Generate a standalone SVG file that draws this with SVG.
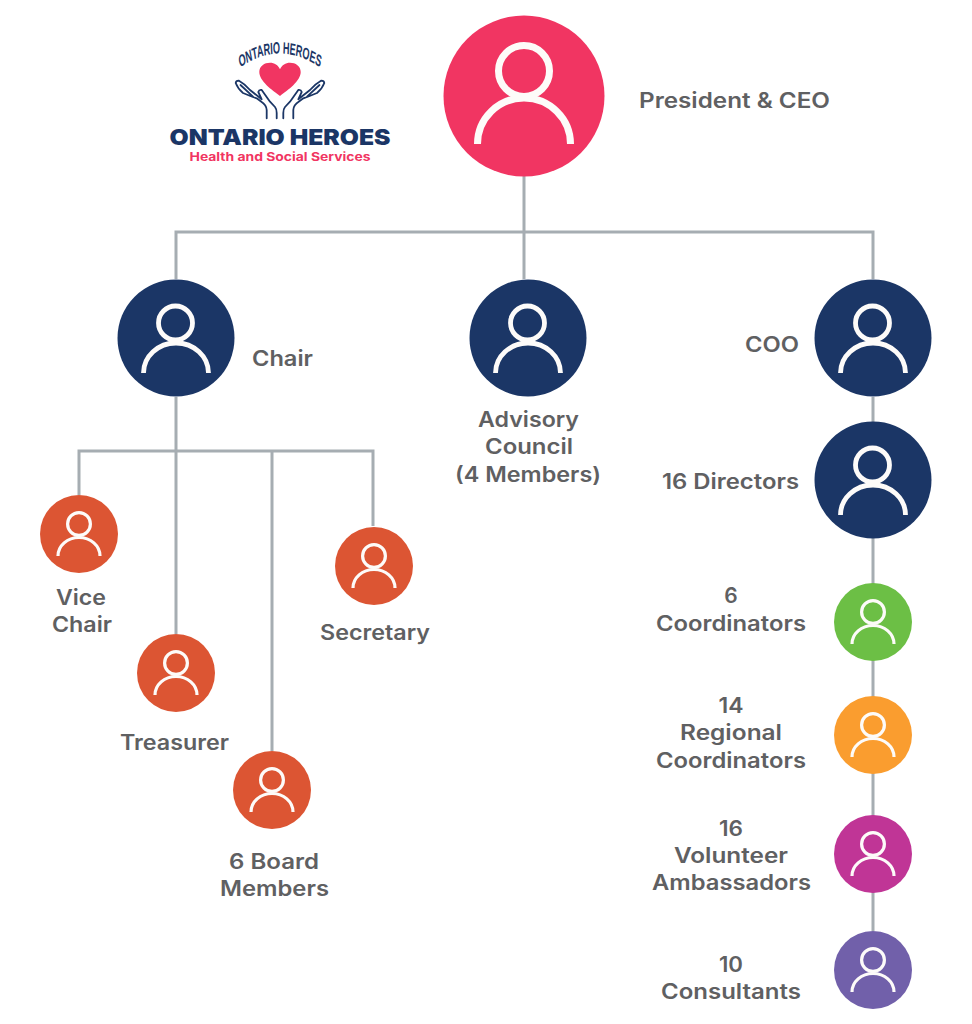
<svg xmlns="http://www.w3.org/2000/svg" width="972" height="1024" viewBox="0 0 972 1024">
<style>
.bg{fill:#fff}
.c{fill:none;stroke:#a6adb2;stroke-width:3}
.ic{fill:none;stroke:#fdfbf9}
.l{font-family:Inter,"Noto Sans","Liberation Sans",sans-serif;font-weight:600;font-size:21px;fill:#5f6062;text-anchor:middle}
.navy{fill:#1b3666}.pink{fill:#f13562}.red{fill:#dc5533}.green{fill:#6cbf45}.orange{fill:#fa9d2f}.mag{fill:#c03596}.pur{fill:#7160aa}
.hand{fill:none;stroke:#1b3666;stroke-width:1.800;stroke-linejoin:round;stroke-linecap:round}
</style>
<defs>
<g id="person-l" stroke-width="7"><circle class="ic" cx="0" cy="-25" r="25.500"/><path class="ic" d="M-46.500 48A46.500 46 0 0 1 46.500 48"/></g>
<g id="person-m" stroke-width="4.800"><circle class="ic" cx="-0.500" cy="-15" r="17"/><path class="ic" d="M-32.500 35A32.500 30 0 0 1 32.500 35"/></g>
<g id="person-s" stroke-width="3.200"><circle class="ic" cx="0" cy="-10" r="11.400"/><path class="ic" d="M-21 22A21 18.500 0 0 1 21 22"/></g>
<path id="arch" d="M-70 68Q0 39 70 68"/>
<g id="hand"><path class="hand" d="M266.700 118.300V110Q266.500 105 261 101.500L256.700 98.300Q250 96 243 93Q238 89 235.700 83Q236 80.500 239 80.700Q245 84 250 90L261.700 99.300L258.300 92Q259 89.500 261.700 90L270 101.700L275 107Q276.700 109 276.700 113V118.300M240.500 85L253 96.700"/></g>
</defs>
<rect class="bg" width="972" height="1024"/>
<g id="connectors">
<path class="c" d="M524 176V279M176 279V232H873V279M176 397V634M79 495V451H373V526M272 451V751M873 397V931"/>
</g>
<g id="logo">
<text transform="translate(280 0) scale(.58 1)" font-family="'Liberation Sans',sans-serif" font-weight="700" font-size="16.500" fill="#1b3666" textLength="142" lengthAdjust="spacingAndGlyphs"><textPath href="#arch" startOffset="50%" text-anchor="middle">ONTARIO HEROES</textPath></text>
<path fill="#f13562" d="M280 96C272 90 259.300 81 259.300 72C259.300 66 264.500 62.700 270 62.700C274.500 62.700 278 65 280 69.300C282 65 285.500 62.700 290 62.700C295.500 62.700 300.700 66 300.700 72C300.700 81 288 90 280 96Z"/>
<use href="#hand"/>
<use href="#hand" transform="matrix(-1 0 0 1 560 0)"/>
<text x="280" y="145" text-anchor="middle" font-family="Inter,'Liberation Sans',sans-serif" font-weight="900" font-size="21.500" fill="#1b3666" textLength="221" lengthAdjust="spacingAndGlyphs">ONTARIO HEROES</text>
<text x="280" y="160.500" text-anchor="middle" font-family="Inter,'Liberation Sans',sans-serif" font-weight="700" font-size="12" fill="#f13562" textLength="181" lengthAdjust="spacingAndGlyphs">Health and Social Services</text>
</g>
<g id="president"><circle class="pink" cx="524" cy="96" r="80.500"/><use href="#person-l" transform="translate(524 96)"/><text class="l" x="734.500" y="107.500" textLength="191" lengthAdjust="spacingAndGlyphs">President &amp; CEO</text></g>
<g id="chair"><circle class="navy" cx="176" cy="338" r="58.500"/><use href="#person-m" transform="translate(176 338)"/><text class="l" x="282.500" y="366" textLength="61" lengthAdjust="spacingAndGlyphs">Chair</text></g>
<g id="advisory"><circle class="navy" cx="528" cy="338" r="58.500"/><use href="#person-m" transform="translate(528 338)"/><text class="l" x="528.500" y="427" textLength="101" lengthAdjust="spacingAndGlyphs">Advisory</text><text class="l" x="529" y="454" textLength="88" lengthAdjust="spacingAndGlyphs">Council</text><text class="l" x="528" y="481.500" textLength="146" lengthAdjust="spacingAndGlyphs">(4 Members)</text></g>
<g id="coo"><circle class="navy" cx="873" cy="338" r="58.500"/><use href="#person-m" transform="translate(873 338)"/><text class="l" x="772" y="352" textLength="54" lengthAdjust="spacingAndGlyphs">COO</text></g>
<g id="directors"><circle class="navy" cx="873" cy="480" r="58.500"/><use href="#person-m" transform="translate(873 480)"/><text class="l" x="730.500" y="489" textLength="137" lengthAdjust="spacingAndGlyphs">16 Directors</text></g>
<g id="vice-chair"><circle class="red" cx="79" cy="534" r="39"/><use href="#person-s" transform="translate(79 534)"/><text class="l" x="81" y="605" textLength="50" lengthAdjust="spacingAndGlyphs">Vice</text><text class="l" x="82" y="632" textLength="60" lengthAdjust="spacingAndGlyphs">Chair</text></g>
<g id="secretary"><circle class="red" cx="374" cy="566" r="39"/><use href="#person-s" transform="translate(374 566)"/><text class="l" x="375" y="640" textLength="110" lengthAdjust="spacingAndGlyphs">Secretary</text></g>
<g id="treasurer"><circle class="red" cx="176" cy="673" r="39"/><use href="#person-s" transform="translate(176 673)"/><text class="l" x="174.500" y="750" textLength="109" lengthAdjust="spacingAndGlyphs">Treasurer</text></g>
<g id="board"><circle class="red" cx="272" cy="790" r="39"/><use href="#person-s" transform="translate(272 790)"/><text class="l" x="274" y="869" textLength="90" lengthAdjust="spacingAndGlyphs">6 Board</text><text class="l" x="274.500" y="896" textLength="109" lengthAdjust="spacingAndGlyphs">Members</text></g>
<g id="coordinators"><circle class="green" cx="873" cy="622" r="39"/><use href="#person-s" transform="translate(873 622)"/><text class="l" x="731" y="603">6</text><text class="l" x="731" y="630.500" textLength="150" lengthAdjust="spacingAndGlyphs">Coordinators</text></g>
<g id="regional"><circle class="orange" cx="873" cy="735" r="39"/><use href="#person-s" transform="translate(873 735)"/><text class="l" x="731" y="713" textLength="25" lengthAdjust="spacingAndGlyphs">14</text><text class="l" x="731" y="740" textLength="102" lengthAdjust="spacingAndGlyphs">Regional</text><text class="l" x="731" y="767.500" textLength="150" lengthAdjust="spacingAndGlyphs">Coordinators</text></g>
<g id="volunteers"><circle class="mag" cx="873" cy="854" r="39"/><use href="#person-s" transform="translate(873 854)"/><text class="l" x="731" y="836" textLength="24" lengthAdjust="spacingAndGlyphs">16</text><text class="l" x="731" y="863" textLength="114" lengthAdjust="spacingAndGlyphs">Volunteer</text><text class="l" x="731.500" y="890" textLength="159" lengthAdjust="spacingAndGlyphs">Ambassadors</text></g>
<g id="consultants"><circle class="pur" cx="873" cy="970" r="39"/><use href="#person-s" transform="translate(873 970)"/><text class="l" x="731" y="972" textLength="24" lengthAdjust="spacingAndGlyphs">10</text><text class="l" x="731" y="999" textLength="140" lengthAdjust="spacingAndGlyphs">Consultants</text></g>
</svg>
